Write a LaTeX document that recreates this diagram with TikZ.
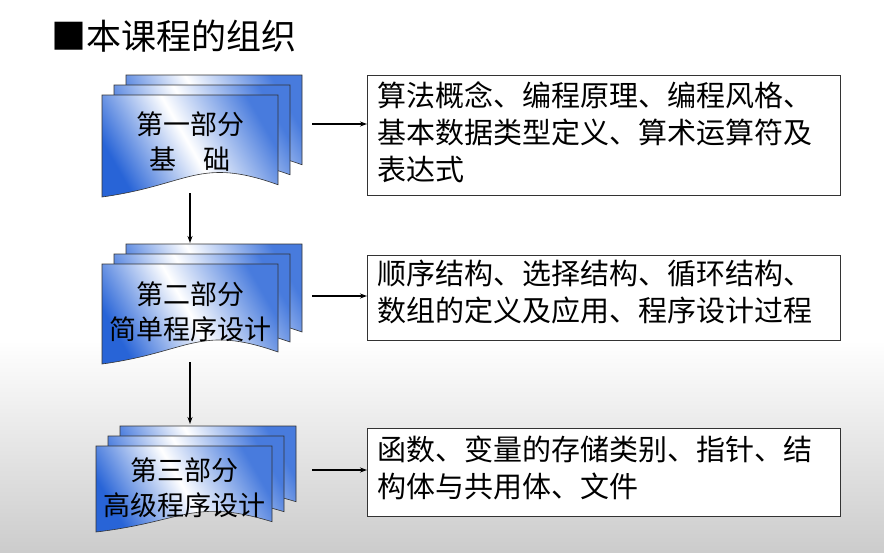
\documentclass[tikz,border=0pt]{standalone}
\usepackage{fontspec}
\newfontfamily\cjk{Noto Sans CJK SC}
\usetikzlibrary{arrows.meta}
\definecolor{docblue}{RGB}{40,100,215}
\begin{document}
\begin{tikzpicture}[x=1pt,y=-1pt,
  pg/.style={draw=black!80,line width=0.6pt,left color=docblue,right color=docblue!85,middle color=white,shading angle=120},
  tbox/.style={draw=black!80,line width=0.8pt,fill=white,anchor=north west,inner sep=0pt},
  arr/.style={-{Stealth[length=7pt,width=5pt]},line width=1.2pt},
  txt/.style={font=\cjk\fontsize{29}{37}\selectfont,align=left,anchor=north west}]
\fill[top color=white,bottom color=black!20] (0,340) rectangle (884,552);
\fill[white] (0,0) rectangle (884,340);
\useasboundingbox (0,0) rectangle (884,552);
\newcommand\pgone[4]{% x y w h
  \path[pg] (#1,#2) -- ++(#3,0) -- ++(0,#4*0.88) .. controls ++(-#3*0.45,-#4*0.28) and ++(#3*0.5,-#4*0.12) .. (#1,#2+#4) -- cycle;}
\newcommand\docstack[4]{%
  \pgone{#1+24}{#2-20}{#3}{#4}\pgone{#1+12}{#2-10}{#3}{#4}\pgone{#1}{#2}{#3}{#4}}
\node[anchor=west,font=\cjk\fontsize{35}{40}\selectfont] (title) at (48,36) {■本课程的组织};
\docstack{102}{95}{176}{102}
\docstack{102}{264}{176}{100}
\docstack{96}{446}{176}{86}
\node[font=\cjk\fontsize{27}{35}\selectfont,align=center] (d1) at (190,142) {第一部分\\基　础};
\node[font=\cjk\fontsize{27}{35}\selectfont,align=center] (d2) at (190,312) {第二部分\\简单程序设计};
\node[font=\cjk\fontsize{27}{35}\selectfont,align=center] (d3) at (184,488) {第三部分\\高级程序设计};
\node[tbox,minimum width=473pt,minimum height=120pt] (b1) at (367,75) {};
\node[tbox,minimum width=473pt,minimum height=85pt] (b2) at (367,255) {};
\node[tbox,minimum width=473pt,minimum height=88pt] (b3) at (367,428) {};
\node[txt] (t1) at (374,78) {算法概念、编程原理、编程风格、\\基本数据类型定义、算术运算符及\\表达式};
\node[txt] (t2) at (374,256) {顺序结构、选择结构、循环结构、\\数组的定义及应用、程序设计过程};
\node[txt] (t3) at (374,432) {函数、变量的存储类别、指针、结\\构体与共用体、文件};
\coordinate (a1) at (312,124); \coordinate (a2) at (312,296); \coordinate (a3) at (312,470);
\draw[arr] (a1) -- (b1.west|-a1);
\draw[arr] (a2) -- (b2.west|-a2);
\draw[arr] (a3) -- (b3.west|-a3);
\coordinate (v1) at (190,193); \coordinate (v1e) at (190,243);
\coordinate (v2) at (190,362); \coordinate (v2e) at (190,424);
\draw[arr] (v1) -- (v1e);
\draw[arr] (v2) -- (v2e);
\end{tikzpicture}
\end{document}
